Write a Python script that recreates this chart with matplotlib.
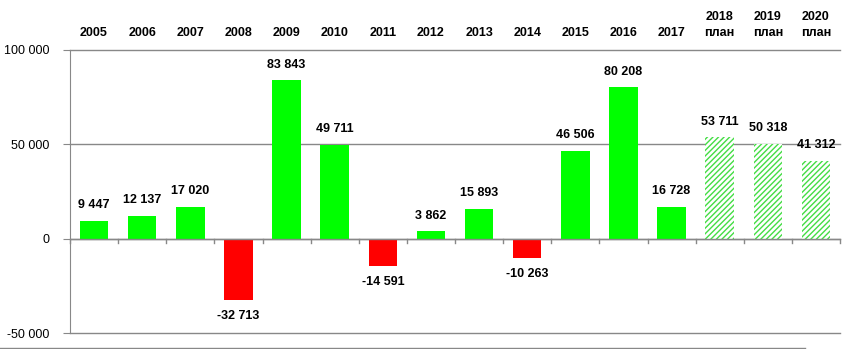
import matplotlib
matplotlib.use("Agg")
import matplotlib.pyplot as plt
from matplotlib.lines import Line2D

plt.rcParams["font.family"] = ["Liberation Sans", "DejaVu Sans"]

# data
years = ["2005", "2006", "2007", "2008", "2009", "2010", "2011", "2012",
         "2013", "2014", "2015", "2016", "2017",
         "2018\nплан", "2019\nплан", "2020\nплан"]
values = [9447, 12137, 17020, -32713, 83843, 49711, -14591, 3862,
          15893, -10263, 46506, 80208, 16728, 53711, 50318, 41312]
is_plan = [False] * 13 + [True] * 3

yticks = [-50000, 0, 50000, 100000]


def fmt(v):
    s = f"{abs(v):,}".replace(",", " ")
    return ("-" if v < 0 else "") + s


fig = plt.figure(figsize=(8.51, 3.49), dpi=100)
ax = fig.add_axes([70 / 851, 16 / 349, 770 / 851, 283 / 349])

x = list(range(len(years)))
for xi, v, plan in zip(x, values, is_plan):
    if plan:
        ax.bar(xi, v, width=0.59, color="white", edgecolor="#44dd44",
               hatch="//////", linewidth=0, zorder=2)
    else:
        ax.bar(xi, v, width=0.59, color="#00ff00" if v >= 0 else "#ff0000",
               linewidth=0, zorder=2)
    if v >= 0:
        ax.annotate(fmt(v), (xi, v), xytext=(0, 7), textcoords="offset points",
                    ha="center", va="bottom", fontsize=9, fontweight="bold")
    else:
        ax.annotate(fmt(v), (xi, v), xytext=(0, -7), textcoords="offset points",
                    ha="center", va="top", fontsize=9, fontweight="bold")

ax.set_xlim(-0.5, len(years) - 0.5)
ax.set_ylim(-50000, 100000)
ax.set_yticks(yticks)
ax.set_yticklabels([fmt(t) for t in yticks], fontsize=9)
ax.grid(axis="y", color="#888888", linewidth=1, zorder=0)
for gl in ax.get_ygridlines():
    gl.set_clip_on(False)

# zero line with category boundary ticks
ax.axhline(0, color="#888888", linewidth=1, zorder=3)
for b in range(len(years) + 1):
    ax.plot([b - 0.5, b - 0.5], [0, -2500], color="#888888", linewidth=1,
            zorder=3, clip_on=False)

ax.set_xticks([])
for s in ["top", "right", "bottom"]:
    ax.spines[s].set_visible(False)
ax.spines["left"].set_color("#888888")
ax.tick_params(axis="y", color="#888888", length=5, pad=10)

# year labels on top
for xi, lab in zip(x, years):
    ax.text(xi, 1.04, lab, transform=ax.get_xaxis_transform(), ha="center",
            va="bottom", fontsize=9, fontweight="bold", linespacing=1.45)

fig.add_artist(Line2D([0, 805 / 851], [1.5 / 349, 1.5 / 349], color="#888888",
                      linewidth=1))

fig.savefig("out.png", dpi=100)
